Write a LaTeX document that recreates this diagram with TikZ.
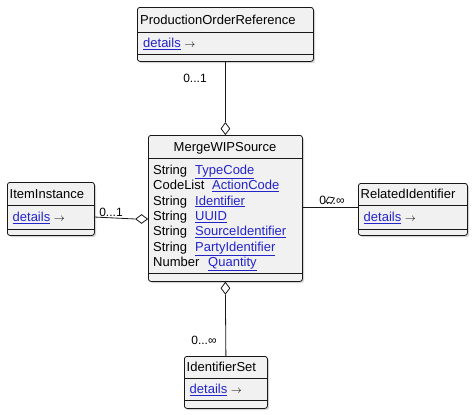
\documentclass[tikz,border=0pt]{standalone}
\usepackage{fontspec}
\setmainfont{Liberation Sans}
\usetikzlibrary{shapes.geometric,calc}
\definecolor{boxfill}{HTML}{F1F1F1}
\definecolor{boxline}{HTML}{181818}
\definecolor{linkblue}{HTML}{2323CC}
\definecolor{shadowc}{HTML}{D4D4D4}
\newcommand{\lnk}[1]{{\color{linkblue}\underline{#1}}}
\newcommand{\rarr}{{\fontsize{11}{12}\selectfont$\rightarrow$}}
\tikzset{
  cls/.style={draw=boxline, fill=boxfill, rounded corners=2.5pt, line width=0.8pt, inner sep=0pt, anchor=north west},
  shd/.style={fill=shadowc, rounded corners=2.5pt},
  sep/.style={draw=boxline, line width=0.8pt},
  txt/.style={inner sep=0pt, anchor=west, text height=9.5pt, text depth=0.5pt, font=\fontsize{13}{15}\selectfont},
  ttl/.style={inner sep=0pt, text height=9.5pt, text depth=0.5pt, font=\fontsize{13}{15}\selectfont},
  lbl/.style={inner sep=0pt, font=\fontsize{12}{14}\selectfont},
  conn/.style={draw=boxline, line width=0.8pt},
  diamv/.style={diamond, draw=boxline, fill=white, line width=0.8pt, inner sep=0pt, minimum width=9pt, minimum height=12pt},
  diamh/.style={diamond, draw=boxline, fill=white, line width=0.8pt, inner sep=0pt, minimum width=12pt, minimum height=9pt},
}
\begin{document}
\begin{tikzpicture}[x=1pt,y=-1pt]
\useasboundingbox[fill=white] (0,0) rectangle (474,415);

% ---- ProductionOrderReference
\fill[shd] (139,9) rectangle (315,63);
\node[cls, minimum width=176pt, minimum height=54pt] (por) at (137,7) {};
\draw[sep] (137,32) -- (313,32);
\draw[sep] (137,54) -- (313,54);
\node[txt] (porT) at (140,19.5) {ProductionOrderReference};
\node[txt] (porD) at (143,43) {\lnk{details} \rarr};

% ---- MergeWIPSource
\fill[shd] (150,137) rectangle (304,283);
\node[cls, minimum width=154pt, minimum height=146pt] (mws) at (148,135) {};
\draw[sep] (148,158) -- (302,158);
\draw[sep] (148,273) -- (302,273);
\node[ttl] (mwsT) at (225,146.5) {MergeWIPSource};
\node[txt] (a1t) at (153,170.0) {String};   \node[txt] (a1n) at (195,170.0) {\lnk{TypeCode}};
\node[txt] (a2t) at (153,185.3) {CodeList}; \node[txt] (a2n) at (212,185.3) {\lnk{ActionCode}};
\node[txt] (a3t) at (153,200.6) {String};   \node[txt] (a3n) at (195,200.6) {\lnk{Identifier}};
\node[txt] (a4t) at (153,215.9) {String};   \node[txt] (a4n) at (195,215.9) {\lnk{UUID}};
\node[txt] (a5t) at (153,231.2) {String};   \node[txt] (a5n) at (195,231.2) {\lnk{SourceIdentifier}};
\node[txt] (a6t) at (153,246.5) {String};   \node[txt] (a6n) at (195,246.5) {\lnk{PartyIdentifier}};
\node[txt] (a7t) at (153,261.8) {Number};   \node[txt] (a7n) at (208,261.8) {\lnk{Quantity}};

% ---- ItemInstance
\fill[shd] (9,184) rectangle (96,237);
\node[cls, minimum width=87pt, minimum height=53pt] (ii) at (7,182) {};
\draw[sep] (7,205) -- (94,205);
\draw[sep] (7,229) -- (94,229);
\node[txt] (iiT) at (9.5,193.5) {ItemInstance};
\node[txt] (iiD) at (12.5,217) {\lnk{details} \rarr};

% ---- RelatedIdentifier
\fill[shd] (360,185) rectangle (469,237);
\node[cls, minimum width=109pt, minimum height=52pt] (ri) at (358,183) {};
\draw[sep] (358,205) -- (467,205);
\draw[sep] (358,229) -- (467,229);
\node[txt] (riT) at (360.5,193.5) {RelatedIdentifier};
\node[txt] (riD) at (363.5,217) {\lnk{details} \rarr};

% ---- IdentifierSet
\fill[shd] (186,358) rectangle (269,410);
\node[cls, minimum width=83pt, minimum height=52pt] (is) at (184,356) {};
\draw[sep] (184,378) -- (267,378);
\draw[sep] (184,400) -- (267,400);
\node[txt] (isT) at (186.5,367) {IdentifierSet};
\node[txt] (isD) at (189.5,389) {\lnk{details} \rarr};

% ---- connectors
\node[diamv, anchor=south] (d1) at (mws.north) {};
\draw[conn] (por.south) -- (d1.north);
\node[lbl] (l1) at (195,78) {0...1};

\node[diamh, anchor=east] (d2) at (mws.west |- 0,219) {};
\coordinate (iiport) at (94,217);
\draw[conn] (iiport) -- (d2.west);
\node[lbl] (l2) at (111,212) {0...1};

\node[diamv, anchor=north] (d3) at (mws.south) {};
\draw[conn] (d3.south) -- (is.north);
\node[lbl] (l3) at (204,340) {0...∞};

\coordinate (mwsport) at (302,207);
\coordinate (riport) at (358,207);
\draw[conn] (mwsport) -- (riport);
\node[lbl] (l4) at (332,200) {0...∞};
\node[diamh, rotate=25, minimum width=10pt, minimum height=7pt] (d4) at (330,200) {};
\end{tikzpicture}
\end{document}
